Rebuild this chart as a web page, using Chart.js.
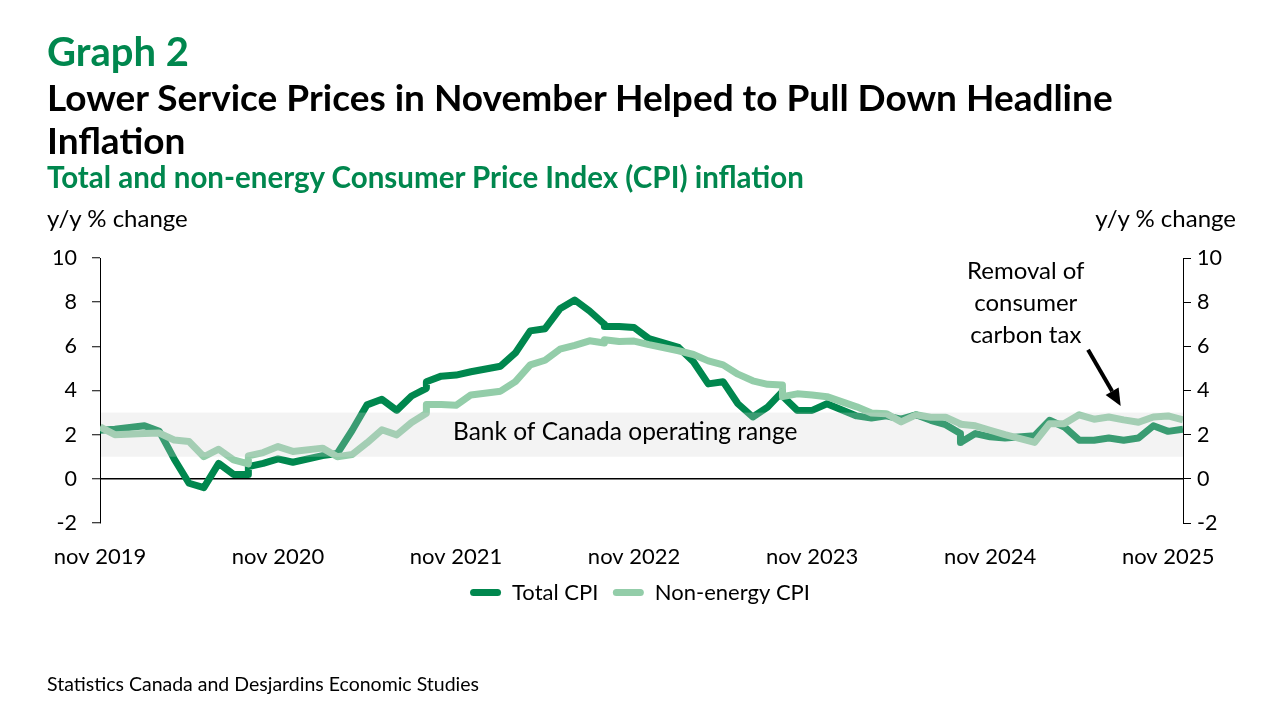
<!DOCTYPE html>
<html>
<head>
<meta charset="utf-8">
<script src="https://cdn.jsdelivr.net/npm/chart.js@4.4.0/dist/chart.umd.min.js"></script>
<style>
  body { margin:0; width:1280px; height:720px; overflow:hidden; background:#fff; position:relative; font-family:Lato, sans-serif; }
  canvas { position:absolute; left:0; top:0; }
  .t { position:absolute; white-space:nowrap; line-height:1; z-index:2; }
  #g2 { left:47px; top:31px; font-size:40px; font-weight:bold; color:#00874E; }
  #title { left:47px; top:75px; font-size:37px; line-height:43px; font-weight:bold; color:#000; }
  #sub { left:47px; top:162px; font-size:29.5px; font-weight:bold; color:#00874E; }
  #unitL { left:47px; top:206px; font-size:24px; color:#000; }
  #unitR { right:44px; top:206px; font-size:24px; color:#000; }
  #src { left:47px; top:674px; font-size:19.5px; color:#000; }
</style>
</head>
<body>
<div class="t" id="g2">Graph 2</div>
<div class="t" id="title">Lower Service Prices in November Helped to Pull Down Headline<br>Inflation</div>
<div class="t" id="sub">Total and non-energy Consumer Price Index (CPI) inflation</div>
<div class="t" id="unitL">y/y % change</div>
<div class="t" id="unitR">y/y % change</div>
<div class="t" id="src">Statistics Canada and Desjardins Economic Studies</div>
<canvas id="c" width="1280" height="720"></canvas>
<script>
// position of each observation on the time axis (months after nov 2019, as plotted)
const monthPos = [0, 1, 3, 4, 5, 6, 7, 8, 9, 10, 10, 11, 12,
  13, 15, 16, 17, 18, 19, 20, 21, 22, 22, 23, 24,
  25, 27, 28, 29, 30, 31, 32, 33, 34, 34, 35, 36,
  37, 39, 40, 41, 42, 43, 44, 45, 46, 46, 47, 48,
  49, 51, 52, 53, 54, 55, 56, 57, 58, 58, 59, 60,
  61, 63, 64, 65, 66, 67, 68, 69, 70, 71, 72, 73];

const totalCpi = [2.2, 2.25, 2.4, 2.15, 0.9, -0.2, -0.4, 0.7, 0.2, 0.2, 0.55, 0.7, 0.9,
  0.75, 1.05, 1.15, 2.2, 3.35, 3.6, 3.1, 3.75, 4.1, 4.4, 4.65, 4.7,
  4.85, 5.1, 5.7, 6.7, 6.8, 7.7, 8.1, 7.6, 7.0, 6.9, 6.9, 6.85,
  6.35, 5.95, 5.3, 4.3, 4.4, 3.4, 2.8, 3.25, 3.95, 3.75, 3.1, 3.1,
  3.4, 2.85, 2.75, 2.85, 2.7, 2.9, 2.65, 2.45, 2.05, 1.65, 2.05, 1.9,
  1.85, 1.95, 2.65, 2.35, 1.75, 1.75, 1.85, 1.75, 1.85, 2.4, 2.15, 2.25];

const nonEnergyCpi = [2.35, 2.0, 2.05, 2.07, 1.76, 1.69, 1.0, 1.34, 0.86, 0.68, 1.04, 1.19, 1.46,
  1.24, 1.39, 1.0, 1.1, 1.63, 2.22, 1.99, 2.55, 2.97, 3.37, 3.37, 3.33,
  3.8, 3.97, 4.4, 5.16, 5.37, 5.87, 6.04, 6.25, 6.15, 6.3, 6.22, 6.24,
  6.08, 5.8, 5.63, 5.34, 5.16, 4.74, 4.44, 4.28, 4.25, 3.72, 3.85, 3.8,
  3.72, 3.26, 2.98, 2.95, 2.58, 2.9, 2.79, 2.79, 2.49, 2.47, 2.4, 2.2,
  2.0, 1.65, 2.5, 2.5, 2.9, 2.7, 2.8, 2.67, 2.56, 2.8, 2.85, 2.67];

const xTickPos = [0, 12, 24, 36, 48, 60, 72];
const xTickLabels = ['nov 2019', 'nov 2020', 'nov 2021', 'nov 2022', 'nov 2023', 'nov 2024', 'nov 2025'];
const bocRange = [1, 3];

const DARK = '#00874E';
const LIGHT = '#93CDA9';

Chart.defaults.font.family = 'Lato';
Chart.defaults.color = '#000';

const pts = vals => monthPos.map((m, i) => ({ x: m, y: vals[i] }));

// operating range band, drawn over the lines (semi transparent like the original)
const bandPlugin = {
  id: 'bocBand',
  afterDatasetsDraw(chart, args, o) {
    const { ctx, chartArea: a, scales: { x, y } } = chart;
    const top = y.getPixelForValue(bocRange[1]);
    const bot = y.getPixelForValue(bocRange[0]);
    ctx.save();
    ctx.fillStyle = 'rgba(211,211,211,0.275)';
    ctx.fillRect(a.left + 1, top, a.right - a.left - 1, bot - top);
    ctx.fillStyle = '#000';
    ctx.font = o.font;
    ctx.textAlign = 'center';
    ctx.textBaseline = 'middle';
    ctx.fillText(o.label, x.getPixelForValue(o.at[0]), y.getPixelForValue(o.at[1]));
    ctx.restore();
  }
};

// carbon tax note + arrow
const notePlugin = {
  id: 'carbonNote',
  afterDraw(chart, args, o) {
    const { ctx, scales: { x, y } } = chart;
    ctx.save();
    ctx.font = o.font;
    ctx.fillStyle = '#000';
    ctx.textAlign = 'center';
    ctx.textBaseline = 'middle';
    const cx = x.getPixelForValue(o.textAt[0]);
    const cy = y.getPixelForValue(o.textAt[1]);
    o.lines.forEach((l, i) => ctx.fillText(l, cx, cy + i * o.lineGap));

    const x0 = x.getPixelForValue(o.from[0]), y0 = y.getPixelForValue(o.from[1]);
    const x1 = x.getPixelForValue(o.to[0]), y1 = y.getPixelForValue(o.to[1]);
    const ang = Math.atan2(y1 - y0, x1 - x0);
    const head = 17, hw = 7.5;
    const bx = x1 - head * Math.cos(ang), by = y1 - head * Math.sin(ang);
    ctx.strokeStyle = '#000';
    ctx.lineWidth = 4;
    ctx.beginPath();
    ctx.moveTo(x0, y0);
    ctx.lineTo(bx, by);
    ctx.stroke();
    ctx.beginPath();
    ctx.moveTo(x1, y1);
    ctx.lineTo(bx + hw * Math.sin(ang), by - hw * Math.cos(ang));
    ctx.lineTo(bx - hw * Math.sin(ang), by + hw * Math.cos(ang));
    ctx.closePath();
    ctx.fill();
    ctx.restore();
  }
};

new Chart(document.getElementById('c'), {
  type: 'line',
  data: {
    datasets: [
      { label: 'Total CPI', data: pts(totalCpi), borderColor: DARK, backgroundColor: DARK,
        borderWidth: 7, pointRadius: 0, tension: 0, borderJoinStyle: 'round', order: 1 },
      { label: 'Non-energy CPI', data: pts(nonEnergyCpi), borderColor: LIGHT, backgroundColor: LIGHT,
        borderWidth: 7, pointRadius: 0, tension: 0, borderJoinStyle: 'round', order: 0 }
    ]
  },
  options: {
    responsive: false,
    animation: false,
    events: [],
    layout: { padding: { top: 258, left: 0, right: 0, bottom: 106.5 } },
    scales: {
      x: {
        type: 'linear', min: 0, max: 73,
        grid: { display: false },
        border: { display: false },
        afterBuildTicks: s => { s.ticks = xTickPos.map(v => ({ value: v })); },
        ticks: { autoSkip: false, maxRotation: 0, padding: 13, font: { size: 22 },
          callback: v => xTickLabels[xTickPos.indexOf(v)] },
        afterFit: s => { s.height = 44; }
      },
      y: {
        position: 'left', min: -2, max: 10,
        ticks: { stepSize: 2, padding: 15, font: { size: 21.5 } },
        grid: { color: c => (c.tick && c.tick.value === 0) ? '#000' : 'rgba(0,0,0,0)',
          lineWidth: 1.5, tickColor: '#000', tickLength: 8, tickWidth: 1 },
        border: { color: '#000', width: 1 },
        afterFit: s => { s.width = 100; }
      },
      y2: {
        position: 'right', min: -2, max: 10,
        ticks: { stepSize: 2, padding: 6, font: { size: 21.5 } },
        grid: { drawOnChartArea: false, tickColor: '#000', tickLength: 8, tickWidth: 1 },
        border: { color: '#000', width: 1 },
        afterFit: s => { s.width = 97; }
      }
    },
    plugins: {
      tooltip: { enabled: false },
      legend: {
        position: 'bottom',
        labels: {
          font: { size: 22 }, boxWidth: 31, boxHeight: 7, padding: 14.5,
          useBorderRadius: true, borderRadius: 3.5,
          sort: (a, b) => a.datasetIndex - b.datasetIndex,
          generateLabels: ch => Chart.defaults.plugins.legend.labels.generateLabels(ch)
            .map(l => ({ ...l, lineWidth: 0, fillStyle: l.strokeStyle }))
        }
      },
      bocBand: { label: 'Bank of Canada operating range', at: [35.4, 2.12], font: '24.5px Lato' },
      carbonNote: {
        lines: ['Removal of', 'consumer', 'carbon tax'],
        textAt: [62.4, 9.4], lineGap: 32, font: '24px Lato',
        from: [66.6, 5.84], to: [68.8, 3.3]
      }
    }
  },
  plugins: [bandPlugin, notePlugin]
});
</script>
</body>
</html>
